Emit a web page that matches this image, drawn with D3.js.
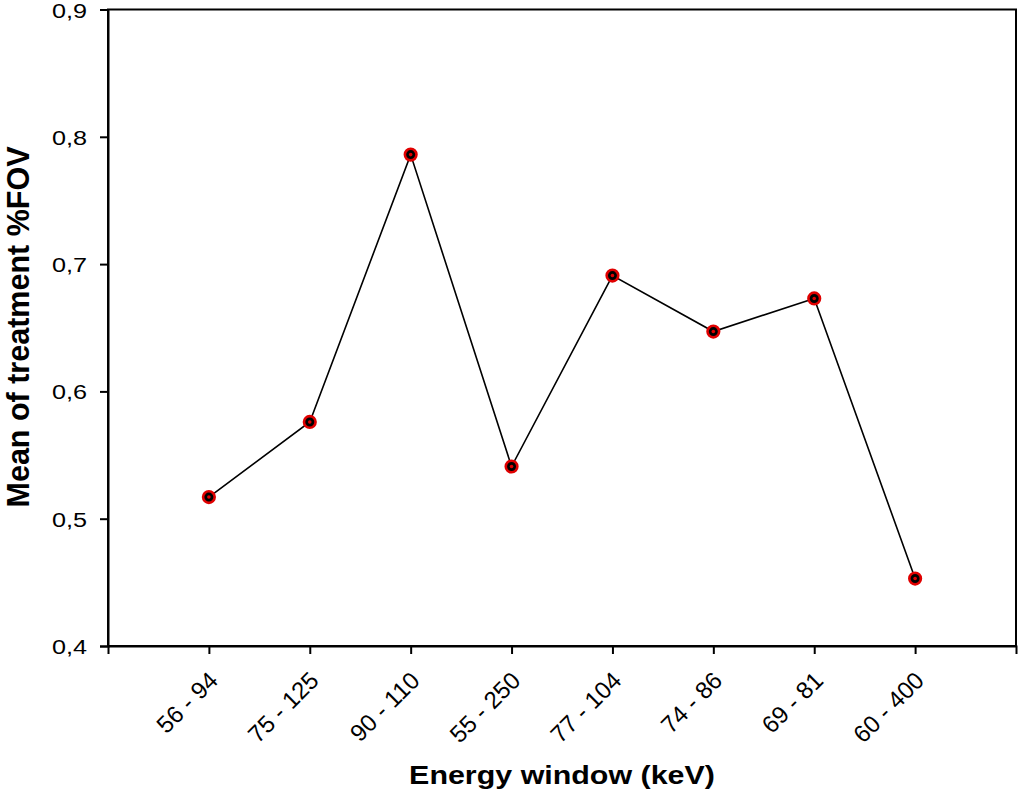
<!DOCTYPE html>
<html>
<head>
<meta charset="utf-8">
<script src="https://cdn.jsdelivr.net/npm/d3@7"></script>
<style>
  html, body { margin: 0; padding: 0; background: #fff; }
  svg { display: block; font-family: "Liberation Sans", Arial, Helvetica, sans-serif; }
</style>
</head>
<body>
<svg id="chart" width="1018" height="795"></svg>
<script>
const categories = ["56 - 94", "75 - 125", "90 - 110", "55 - 250", "77 - 104", "74 - 86", "69 - 81", "60 - 400"];
const meanFOV = [0.517, 0.576, 0.786, 0.541, 0.691, 0.647, 0.673, 0.453];
const yTicks = [0.4, 0.5, 0.6, 0.7, 0.8, 0.9];
const xTitle = "Energy window (keV)";
const yTitle = "Mean of treatment %FOV";

const svg = d3.select("#chart");
const pLeft = 108, pRight = 1016, pTop = 9.5, pBottom = 646;

const x = d3.scaleLinear().domain([0, categories.length + 1]).range([pLeft, pRight]);
const y = d3.scaleLinear().domain([0.4, 0.9]).range([pBottom, pTop]);

const fmt = v => d3.format(".1f")(v).replace(".", ",");

// frame
svg.append("rect")
  .attr("x", pLeft).attr("y", pTop)
  .attr("width", pRight - pLeft).attr("height", pBottom - pTop)
  .attr("fill", "none").attr("stroke", "#000").attr("stroke-width", 2);

// y axis
const yAxis = d3.axisLeft(y).tickValues(yTicks).tickFormat(fmt).tickSize(8).tickPadding(0);
const gy = svg.append("g").attr("transform", `translate(${pLeft},0)`).call(yAxis);
gy.select(".domain").attr("stroke-width", 2);
gy.selectAll(".tick line").attr("stroke-width", 2);
gy.selectAll(".tick text")
  .attr("font-size", 21).attr("x", -17.5).attr("dy", "0.36em")
  .attr("transform", "scale(1.2,1)")
  .attr("font-family", "Liberation Sans, Arial, sans-serif").attr("fill", "#000");

// x axis
const xAxis = d3.axisBottom(x)
  .tickValues(d3.range(1, categories.length + 1))
  .tickFormat(i => categories[i - 1])
  .tickSize(8);
const gx = svg.append("g").attr("transform", `translate(0,${pBottom})`).call(xAxis);
gx.select(".domain").attr("stroke-width", 2);
gx.selectAll(".tick line").attr("stroke-width", 2);
gx.selectAll(".tick text")
  .attr("font-size", 24)
  .attr("font-family", "Liberation Sans, Arial, sans-serif")
  .attr("fill", "#000")
  .attr("text-anchor", "end")
  .attr("y", 0).attr("dy", "0.35em")
  .attr("transform", "translate(4,30) rotate(-45)");

// line
const line = d3.line().x((d, i) => x(i + 1)).y(d => y(d));
svg.append("path").datum(meanFOV)
  .attr("d", line).attr("fill", "none").attr("stroke", "#000").attr("stroke-width", 1.6);

// markers
const pts = svg.append("g").selectAll("g").data(meanFOV).join("g")
  .attr("transform", (d, i) => `translate(${x(i + 1)},${y(d)})`);
pts.append("circle").attr("r", 5.8).attr("fill", "#000").attr("stroke", "#e00000").attr("stroke-width", 2.6);
pts.append("circle").attr("r", 1.8).attr("fill", "#e00000");

// titles
svg.append("text")
  .attr("transform", "translate(562,784) scale(1.17,1)")
  .attr("text-anchor", "middle")
  .attr("font-size", 26).attr("font-weight", "bold")
  .text(xTitle);

svg.append("text")
  .attr("transform", "translate(28.5,327) rotate(-90)")
  .attr("text-anchor", "middle")
  .attr("font-size", 30.5).attr("font-weight", "bold")
  .text(yTitle);
</script>
</body>
</html>
